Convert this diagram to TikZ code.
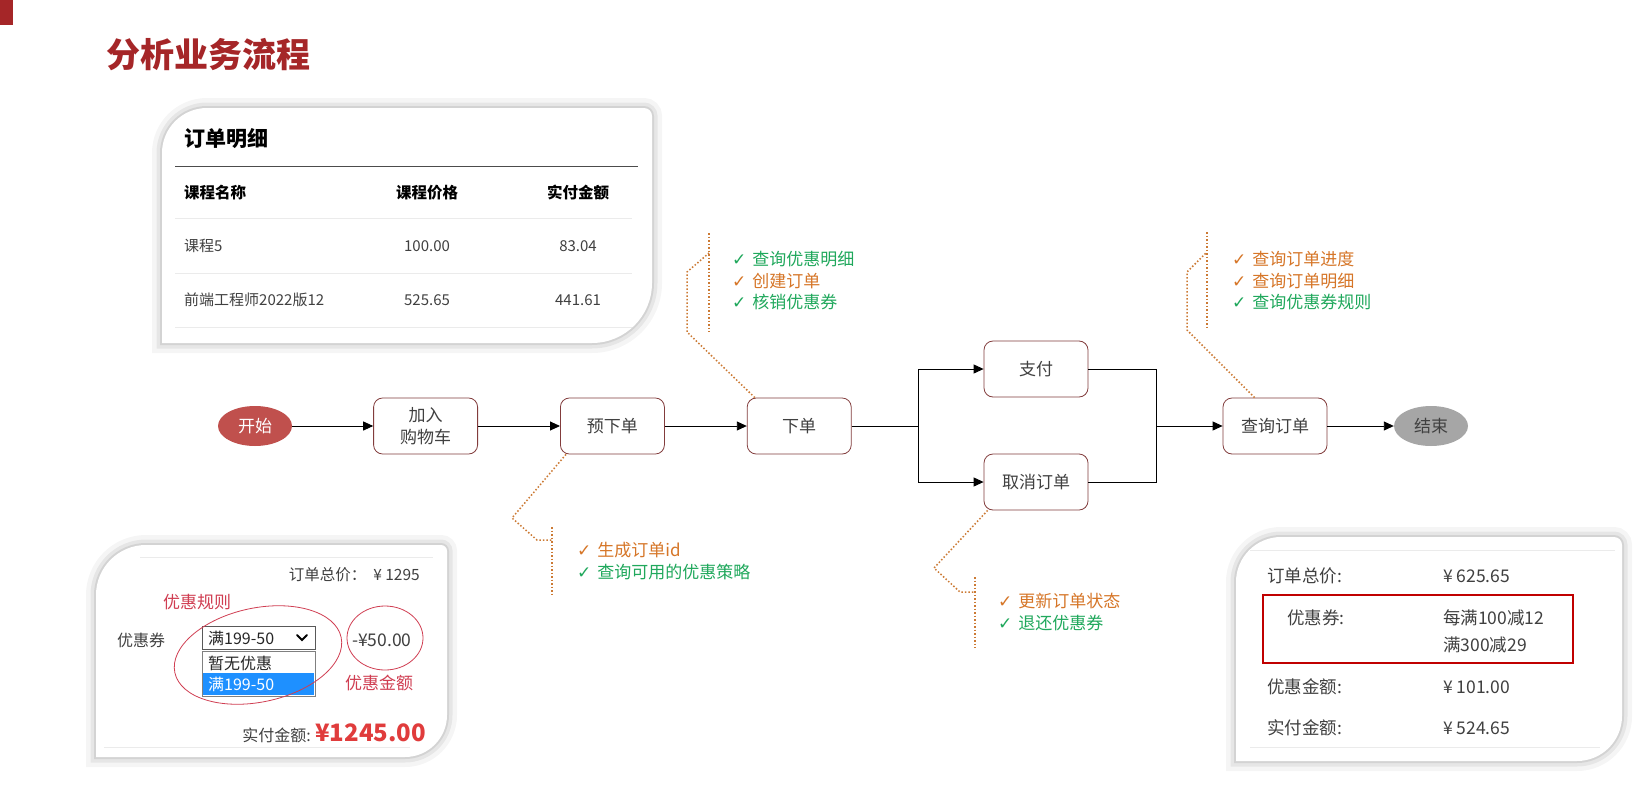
\documentclass[tikz,border=0pt]{standalone}
\usepackage{fontspec}
\setmainfont{Noto Sans CJK SC}
\newfontfamily\checkfont{DejaVu Sans}
\usepackage{xcolor}
\usepackage{tikz}
\usetikzlibrary{shapes.geometric, arrows.meta, positioning}

\definecolor{titlered}{RGB}{165,38,40}
\definecolor{startred}{RGB}{192,80,77}
\definecolor{endgray}{RGB}{166,166,166}
\definecolor{boxline}{RGB}{130,60,60}
\definecolor{textgray}{RGB}{64,64,64}
\definecolor{noteorange}{RGB}{204,122,52}
\definecolor{warnorange}{RGB}{214,118,40}
\definecolor{okgreen}{RGB}{32,168,92}
\definecolor{handred}{RGB}{208,62,82}
\definecolor{pickblue}{RGB}{30,144,255}
\definecolor{redframe}{RGB}{192,0,0}
\definecolor{pricered}{RGB}{224,60,60}

\newcommand{\fsz}[2]{\fontsize{#1}{#2}\selectfont}
\newcommand{\chk}{{\checkfont ✓}\hspace{6pt}}

\begin{document}
\begin{tikzpicture}[x=1pt, y=-1pt,
    node distance=82pt,
    flowbox/.style={rectangle, rounded corners=9pt, draw=boxline, fill=white, line width=0.8pt, minimum width=104pt, minimum height=56pt, align=center, text=textgray, font=\fsz{17}{22}},
    terminal/.style={ellipse, minimum width=74pt, minimum height=40pt, font=\fsz{17}{21}},
    arrow/.style={-{Triangle[length=10pt, width=9pt]}, line width=0.9pt},
    link/.style={line width=0.9pt},
    note/.style={draw=noteorange, dotted, line width=1.5pt},
    notetext/.style={anchor=west, align=left, inner sep=0pt, font=\fsz{17}{21.5}},
    card/.style={fill=white, preaction={draw=black, opacity=0.04, line width=20pt}, preaction={draw=black, opacity=0.06, line width=11pt}, preaction={draw=black, opacity=0.08, line width=4pt}},
    cardtext/.style={text=textgray, inner sep=0pt, font=\fsz{15}{18}},
    pricetext/.style={text=textgray, inner sep=0pt, anchor=west, font=\fsz{17.5}{20}},
    handnote/.style={text=handred, inner sep=0pt, anchor=west, font=\fsz{17}{20}},
    rule/.style={draw=black!8, line width=0.6pt}
]
\fill[white] (0,0) rectangle (1640,784);
\useasboundingbox (0,0) rectangle (1640,784);

% title
\fill[titlered] (0,0) rectangle (13,25);
\node[text=titlered, font=\fsz{34}{38}\bfseries] (title) at (208,55) {分析业务流程};

% order detail card
\path[card] (162,343) -- (162,153) arc[start angle=180, end angle=270, radius=45] -- (644,108) arc[start angle=270, end angle=360, radius=8] -- (652,283) arc[start angle=0, end angle=90, radius=60] -- cycle;
\node[anchor=west, inner sep=0pt, font=\fsz{21}{24}\bfseries] (detailtitle) at (184,139) {订单明细};
\draw[black!70, line width=1pt] (175,166) -- (638,166);
\node[anchor=west, inner sep=0pt, font=\fsz{15.5}{18}\bfseries] (colname) at (184,193) {课程名称};
\node[inner sep=0pt, font=\fsz{15.5}{18}\bfseries] (colprice) at (427,193) {课程价格};
\node[inner sep=0pt, font=\fsz{15.5}{18}\bfseries] (colpaid) at (578,193) {实付金额};
\draw[rule] (175,218) -- (632,218);
\draw[rule] (175,273) -- (632,273);
\draw[rule] (175,327) -- (632,327);
\node[cardtext, anchor=west] (rowonename) at (184,246) {课程5};
\node[cardtext] (rowoneprice) at (427,246) {100.00};
\node[cardtext] (rowonepaid) at (578,246) {83.04};
\node[cardtext, anchor=west] (rowtwoname) at (184,300) {前端工程师2022版12};
\node[cardtext] (rowtwoprice) at (427,300) {525.65};
\node[cardtext] (rowtwopaid) at (578,300) {441.61};

% flow
\node[terminal, fill=startred, text=white] (start) at (255,426) {开始};
\node[flowbox, right=81pt of start] (addcart) {加入\\购物车};
\node[flowbox, right=of addcart] (preorder) {预下单};
\node[flowbox, right=of preorder] (order) {下单};
\node[flowbox] (pay) at (1036,369) {支付};
\node[flowbox] (cancel) at (1036,482) {取消订单};
\node[flowbox] (query) at (1275,426) {查询订单};
\node[terminal, fill=endgray, text=textgray] (finish) at (1431,426) {结束};
\coordinate (fork) at (918,426);
\coordinate (join) at (1156,426);

\draw[arrow] (start) -- (addcart);
\draw[arrow] (addcart) -- (preorder);
\draw[arrow] (preorder) -- (order);
\draw[link] (order) -- (fork);
\draw[arrow] (fork) |- (pay);
\draw[arrow] (fork) |- (cancel);
\draw[link] (pay) -| (join);
\draw[link] (cancel) -| (join);
\draw[arrow] (join) -- (query);
\draw[arrow] (query) -- (finish);

% notes
\draw[note] (709,233) -- (709,332);
\draw[note] ([xshift=8pt]order.north west) -- (687,332) -- (687,272) -- (709,253);
\node[notetext] (ordernote) at (732,281) {{\color{okgreen}\chk 查询优惠明细}\\{\color{warnorange}\chk 创建订单}\\{\color{okgreen}\chk 核销优惠券}};

\draw[note] (1207,232) -- (1207,330);
\draw[note] ([xshift=32pt]query.north west) -- (1187,330) -- (1187,272) -- (1207,252);
\node[notetext] (querynote) at (1232,281) {{\color{warnorange}\chk 查询订单进度}\\{\color{warnorange}\chk 查询订单明细}\\{\color{okgreen}\chk 查询优惠券规则}};

\draw[note] (552,527) -- (552,597);
\draw[note] ([xshift=6pt]preorder.south west) -- (512,518) -- (537,540) -- (552,540);
\node[notetext] (preordernote) at (577,561) {{\color{warnorange}\chk 生成订单id}\\{\color{okgreen}\chk 查询可用的优惠策略}};

\draw[note] (975,577) -- (975,648);
\draw[note] ([xshift=4pt]cancel.south west) -- (934,568) -- (960,592) -- (975,592);
\node[notetext] (cancelnote) at (998,612) {{\color{warnorange}\chk 更新订单状态}\\{\color{okgreen}\chk 退还优惠券}};

% coupon select card
\path[card] (96,757) -- (96,595) arc[start angle=180, end angle=270, radius=50] -- (441,545) arc[start angle=270, end angle=360, radius=6] -- (447,715) arc[start angle=0, end angle=90, radius=42] -- cycle;
\draw[rule] (140,557) -- (433,557);
\draw[rule] (104,747) -- (410,747);
\node[cardtext, anchor=east, font=\fsz{15.5}{18}] (totalleft) at (420,575) {订单总价：\ \ ¥ 1295};
\node[handnote] (rulelabel) at (163,602) {优惠规则};
\node[cardtext, anchor=west, font=\fsz{16}{19}] (couponleft) at (117,640) {优惠券};
\node[draw=black!65, line width=0.8pt, minimum width=113pt, minimum height=23pt, anchor=north west, inner sep=0pt] (select) at (202,626) {};
\node[anchor=west, inner sep=0pt, font=\fsz{16}{19}, text=black!85] (selecttext) at (208,638) {满199-50};
\draw[line width=1.8pt, line cap=round] (297,635) -- (302,640) -- (307,635);
\node[draw=black!50, line width=0.6pt, minimum width=113pt, minimum height=45pt, anchor=north west, inner sep=0pt] (options) at (202,651) {};
\fill[pickblue] (203,673) rectangle (314,695);
\node[anchor=west, inner sep=0pt, font=\fsz{16}{19}, text=black!85] (optnone) at (208,663) {暂无优惠};
\node[anchor=west, inner sep=0pt, font=\fsz{16}{19}, text=white] (optfull) at (208,684) {满199-50};
\node[pricetext] (discountleft) at (352,640) {-¥50.00};
\draw[handred, line width=0.8pt, rotate around={12:(258,655)}] (258,655) ellipse[x radius=85, y radius=47];
\draw[handred, line width=0.8pt] (385,638) ellipse[x radius=38, y radius=32];
\node[handnote] (amountlabel) at (345,683) {优惠金额};
\node[cardtext, anchor=east, font=\fsz{16}{19}] (paidleft) at (311,735) {实付金额:};
\node[anchor=west, inner sep=0pt, text=pricered, font=\fsz{24}{28}\bfseries] (paidvalue) at (315,733) {¥1245.00};

% coupon rule card
\path[card] (1236,761) -- (1236,582) arc[start angle=180, end angle=270, radius=45] -- (1614,537) arc[start angle=270, end angle=360, radius=8] -- (1622,716) arc[start angle=0, end angle=90, radius=45] -- cycle;
\draw[rule] (1250,550) -- (1615,550);
\draw[rule] (1250,747) -- (1600,747);
\draw[redframe, line width=2.5pt] (1263,595) rectangle (1573,663);
\node[pricetext] (totalright) at (1267,576) {订单总价:};
\node[pricetext] (totalvalue) at (1443,576) {¥ 625.65};
\node[pricetext] (couponright) at (1287,618) {优惠券:};
\node[pricetext] (ruleone) at (1443,618) {每满100减12};
\node[pricetext] (ruletwo) at (1443,645) {满300减29};
\node[pricetext] (discountright) at (1267,687) {优惠金额:};
\node[pricetext] (discountvalue) at (1443,687) {¥ 101.00};
\node[pricetext] (paidright) at (1267,728) {实付金额:};
\node[pricetext] (paidrightvalue) at (1443,728) {¥ 524.65};
\end{tikzpicture}
\end{document}
